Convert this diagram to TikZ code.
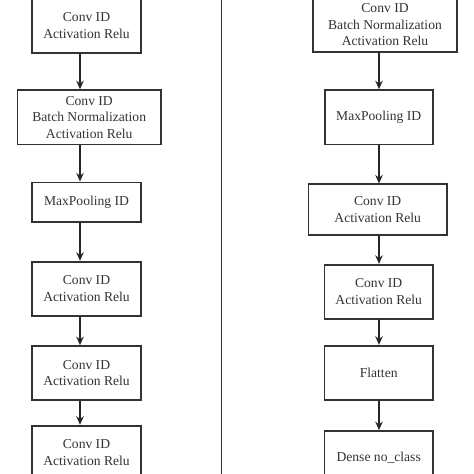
\documentclass[tikz,border=0pt]{standalone}
\usepackage{fontspec}
\setmainfont{Liberation Serif}
\usetikzlibrary{arrows.meta}
\begin{document}
\begin{tikzpicture}[x=1pt,y=-1pt,
  blk/.style={draw=black!80,line width=1.7pt,rectangle,inner sep=0pt,align=center,
    font=\fontsize{13.6}{16.6}\selectfont,text=black!80},
  arr/.style={draw=black!85,line width=1.5pt,-{Stealth[length=8.5pt,width=7.5pt]}},
  sep/.style={draw=black!80,line width=1.3pt}]
\useasboundingbox (0,0) rectangle (474,474);
% left column
\node[blk,minimum width=109pt,minimum height=54.7pt] (L1) at (86.5,25.3) {Conv ID\\Activation Relu};
\node[blk,minimum width=143.7pt,minimum height=54.3pt] (L2) at (89.2,117.2) {Conv ID\\Batch Normalization\\Activation Relu};
\node[blk,minimum width=109pt,minimum height=39.7pt] (L3) at (86.5,202.2) {MaxPooling ID};
\node[blk,minimum width=109pt,minimum height=54pt] (L4) at (86.5,288.7) {Conv ID\\Activation Relu};
\node[blk,minimum width=109pt,minimum height=54pt] (L5) at (86.5,373) {Conv ID\\Activation Relu};
\node[blk,minimum width=109pt,minimum height=54.3pt] (L6) at (86.5,452.8) {Conv ID\\Activation Relu};
\coordinate (lx) at (80,0);
\draw[arr] (L1.south -| lx) -- (L2.north -| lx);
\draw[arr] (L2.south -| lx) -- (L3.north -| lx);
\draw[arr] (L3.south -| lx) -- (L4.north -| lx);
\draw[arr] (L4.south -| lx) -- (L5.north -| lx);
\draw[arr] (L5.south -| lx) -- (L6.north -| lx);
% divider
\coordinate (d1) at (221.7,0);
\coordinate (d2) at (221.7,474);
\draw[sep] (d1) -- (d2);
% right column
\node[blk,minimum width=144pt,minimum height=54.3pt] (R1) at (385,24.6) {Conv ID\\Batch Normalization\\Activation Relu};
\node[blk,minimum width=108pt,minimum height=54.3pt] (R2) at (378.7,117.2) {MaxPooling ID};
\node[blk,minimum width=138.7pt,minimum height=50.4pt] (R3) at (377.7,209.5) {Conv ID\\Activation Relu};
\node[blk,minimum width=108.7pt,minimum height=54pt] (R4) at (378.7,291.7) {Conv ID\\Activation Relu};
\node[blk,minimum width=108.7pt,minimum height=54.3pt] (R5) at (378.7,372.8) {Flatten};
\node[blk,minimum width=108.7pt,minimum height=54pt] (R6) at (378.7,458) {Dense no\_class};
\coordinate (rx) at (379,0);
\draw[arr] (R1.south -| rx) -- (R2.north -| rx);
\draw[arr] (R2.south -| rx) -- (R3.north -| rx);
\draw[arr] (R3.south -| rx) -- (R4.north -| rx);
\draw[arr] (R4.south -| rx) -- (R5.north -| rx);
\draw[arr] (R5.south -| rx) -- (R6.north -| rx);
\end{tikzpicture}
\end{document}
